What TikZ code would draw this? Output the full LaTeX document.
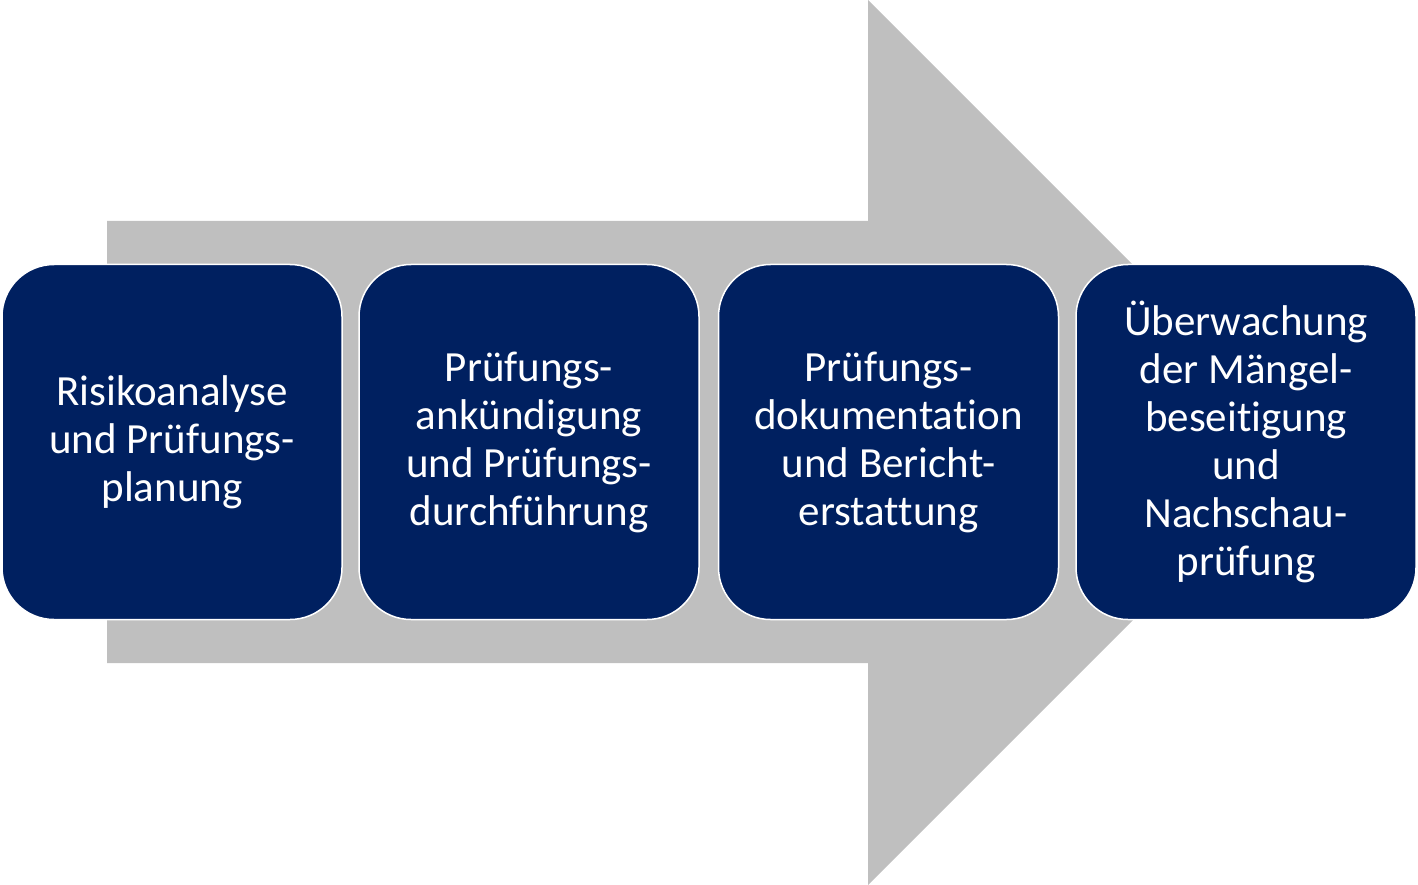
\documentclass[tikz,border=0pt]{standalone}
\usepackage{fontspec}
\setmainfont{Carlito}[Ligatures=NoCommon]
\definecolor{navy}{HTML}{002060}
\definecolor{arrowgray}{HTML}{BFBFBF}
\begin{document}
\begin{tikzpicture}[x=1pt,y=-1pt,
  stepbox/.style={draw=white, line width=1.5pt, fill=navy, rounded corners=52pt,
    minimum width=340pt, minimum height=355pt, inner sep=0pt, text=white,
    align=center, font=\fontsize{43}{48}\selectfont},
]
\useasboundingbox (0,0) rectangle (1418,885);
\fill[arrowgray] (107,221) -- (868,221) -- (868,0) -- (1310.5,442.5) -- (868,885) -- (868,663) -- (107,663) -- cycle;
\node[stepbox] (b1) at (172,442) {Risikoanalyse\\und Prüfungs-\\planung};
\node[stepbox] (b2) at (529,442) {Prüfungs-\\ankündigung\\und Prüfungs-\\durchführung};
\node[stepbox] (b3) at (888.5,442) {Prüfungs-\\dokumentation\\und Bericht-\\erstattung};
\node[stepbox] (b4) at (1246,442) {Überwachung\\der Mängel-\\beseitigung\\und\\Nachschau-\\prüfung};
\end{tikzpicture}
\end{document}
